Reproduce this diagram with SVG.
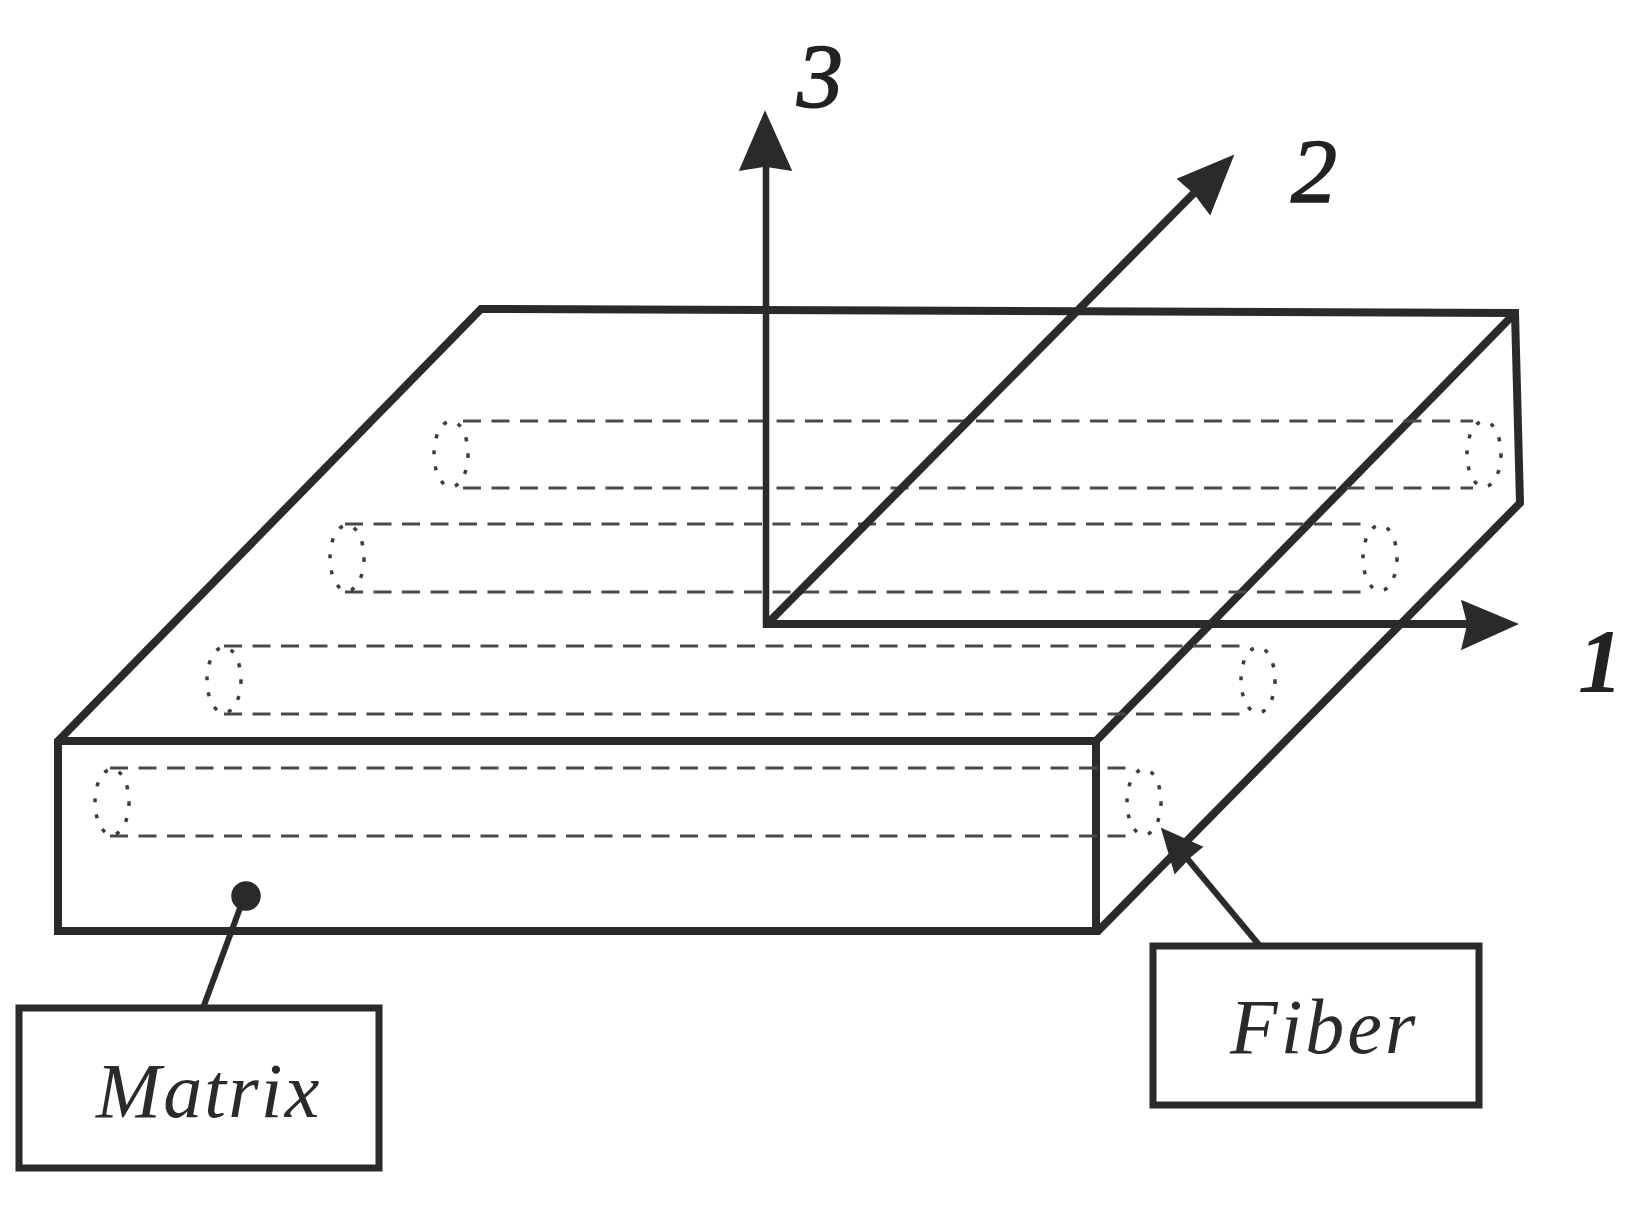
<svg xmlns="http://www.w3.org/2000/svg" width="1646" height="1214" viewBox="0 0 1646 1214">
<style>
.e{fill:none;stroke:#2b2b2b;stroke-width:8;stroke-linejoin:miter;stroke-linecap:butt}
.a{fill:none;stroke:#2b2b2b;stroke-width:6.5}
.d{fill:none;stroke:#4a4a4a;stroke-width:3;stroke-dasharray:18 10.5}
.o{fill:none;stroke:#3d3d3d;stroke-width:3.5;stroke-dasharray:4 12}
.h{fill:#2b2b2b;stroke:#2b2b2b;stroke-width:1.5}
.b{fill:#fff;stroke:#2b2b2b;stroke-width:7}
.l{fill:none;stroke:#2b2b2b;stroke-width:6}
.t{font-family:"Liberation Serif","Times New Roman",serif;font-style:italic;fill:#2b2b2b;font-size:78px}
.n{font-family:"Liberation Serif","Times New Roman",serif;font-style:italic;fill:#222;stroke:#222;stroke-width:1.6;font-size:92px}
.m{font-family:"Liberation Serif","Times New Roman",serif;font-style:italic;font-weight:bold;fill:#222;font-size:90px}
</style>
<defs><filter id="soft" x="-2%" y="-2%" width="104%" height="104%"><feGaussianBlur stdDeviation="0.7"/></filter></defs>
<rect width="1646" height="1214" fill="#fff"/>
<g filter="url(#soft)">
<g id="plate">
<path class="e" d="M58 741 L481 309 L1515 313 L1520 503 L1098 931 L58 931 Z"/>
<path class="e" d="M58 741 H1096 V931"/>
<path class="e" d="M1096 741 L1515 313"/>
</g>
<g id="fiber-1">
<path class="d" d="M463 421 H1473 M463 488 H1473"/>
<ellipse class="o" cx="451" cy="454" rx="17" ry="33"/>
<ellipse class="o" cx="1484" cy="454" rx="17" ry="33"/>
</g>
<g id="fiber-2">
<path class="d" d="M345 524 H1370 M345 592 H1370"/>
<ellipse class="o" cx="347" cy="558" rx="17" ry="33"/>
<ellipse class="o" cx="1380" cy="558" rx="17" ry="33"/>
</g>
<g id="fiber-3">
<path class="d" d="M224 646 H1250 M224 714 H1250"/>
<ellipse class="o" cx="224" cy="680" rx="17" ry="33"/>
<ellipse class="o" cx="1258" cy="680" rx="17" ry="33"/>
</g>
<g id="fiber-4">
<path class="d" d="M110 768 H1136 M110 836 H1136"/>
<ellipse class="o" cx="112" cy="802" rx="17" ry="33"/>
<ellipse class="o" cx="1144" cy="802" rx="17" ry="33"/>
</g>
<g id="connectors">
<g id="axis-3"><path class="a" d="M766 628 V165"/><path class="h" d="M765 112 L791 170 L765 166 L740 170 Z"/></g>
<g id="axis-2"><path class="e" d="M766 625 L1197 190"/><path class="h" d="M1233 156 L1210 214 L1195 194 L1178 179 Z"/></g>
<g id="axis-1"><path class="e" d="M763 624 H1470"/><path class="h" d="M1517 624 L1462 649 L1468 624 L1462 601 Z"/></g>
<g id="matrix-leader"><circle class="h" cx="246" cy="896" r="14"/><path class="l" d="M243 900 L203 1008"/></g>
<g id="fiber-leader"><path class="l" d="M1260 946 L1180 850"/><path class="h" d="M1162 829 L1202 847 L1190 857 L1175 873 Z"/></g>
</g>
<g id="matrix"><rect class="b" x="19" y="1008" width="360" height="160"/><text class="t" x="96" y="1117" letter-spacing="2.2">Matrix</text></g>
<g id="fiber"><rect class="b" x="1153" y="946" width="326" height="159"/><text class="t" x="1230" y="1053" letter-spacing="3">Fiber</text></g>
<g id="labels">
<text class="n" x="797" y="107">3</text>
<text class="n" x="1291" y="202">2</text>
<text class="m" x="1578" y="692">1</text>
</g>
</g>
</svg>
